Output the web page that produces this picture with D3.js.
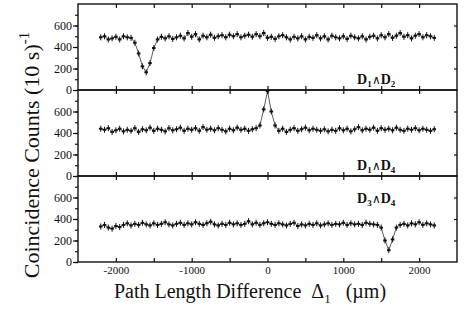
<!DOCTYPE html>
<meta charset="utf-8">
<script src="https://d3js.org/d3.v7.min.js"></script>
<style>
  body { margin: 0; background: #fff; }
  text { font-family: "Liberation Serif", "Times New Roman", serif; fill: #111; }
</style>
<div id="chart"></div>
<script>

// path length difference (µm), shared by all three panels
var pathDiff = [-2200,-2150,-2100,-2050,-2000,-1950,-1900,-1850,-1800,-1750,-1700,-1650,-1600,-1550,-1500,-1450,-1400,-1350,-1300,-1250,
  -1200,-1150,-1100,-1050,-1000,-950,-900,-850,-800,-750,-700,-650,-600,-550,-500,-450,-400,-350,-300,-250,
  -200,-150,-100,-50,0,50,100,150,200,250,300,350,400,450,500,550,600,650,700,750,
  800,850,900,950,1000,1050,1100,1150,1200,1250,1300,1350,1400,1450,1500,1550,1600,1650,1700,1750,
  1800,1850,1900,1950,2000,2050,2100,2150,2200];

// coincidence counts per 10 s
var countsD1D2 = [490,500,470,480,495,470,500,490,485,440,340,220,165,250,390,470,495,480,500,475,
  490,505,480,530,495,520,470,505,490,515,485,500,510,490,515,500,520,490,505,515,
  495,520,500,530,485,495,475,500,510,490,470,495,480,500,470,495,485,510,480,500,
  470,505,490,480,500,475,505,490,480,500,470,495,505,480,510,490,520,485,505,530,
  495,510,480,505,520,490,510,500,485];

var countsD1D4 = [440,430,445,410,425,440,415,430,420,445,410,435,425,450,420,440,430,415,445,425,
  435,450,420,440,430,445,420,455,430,440,425,445,430,415,440,425,450,430,440,420,
  435,445,470,620,790,600,470,420,440,410,430,445,420,435,450,425,440,430,420,435,
  415,430,420,445,425,440,415,435,455,425,440,430,450,420,445,430,440,425,450,430,
  420,440,430,445,425,440,430,420,435];

var countsD3D4 = [330,345,320,310,335,325,345,360,340,355,345,365,350,340,360,345,355,370,350,340,
  355,365,345,360,350,370,355,345,360,375,350,340,355,345,365,350,360,345,355,380,
  350,365,345,360,370,355,345,360,350,340,355,365,335,350,340,355,345,360,340,350,
  360,345,355,350,365,345,360,350,355,345,365,355,350,345,320,200,110,210,320,345,
  355,340,360,350,370,345,360,350,340];

var panelLabels = [["D", "1", "D", "2"], ["D", "1", "D", "4"], ["D", "3", "D", "4"]];
var labelBelow = [true, true, false]; // label below (true) or above the trace
var yTicks = [0, 200, 400, 600];
var xTicks = [-2000, -1000, 0, 1000, 2000];

var W = 474, H = 323;
var left = 78, right = 457, top0 = 4, panelH = 86;

var svg = d3.select("#chart").append("svg")
    .attr("width", W).attr("height", H);

var x = d3.scaleLinear().domain([-2500, 2500]).range([left, right]);

var series = [countsD1D2, countsD1D4, countsD3D4];

series.forEach(function(counts, i) {
  var top = top0 + i * panelH;
  var y = d3.scaleLinear().domain([0, 800]).range([top + panelH, top]);
  var g = svg.append("g");
  var data = pathDiff.map(function(d, k) { return [d, counts[k]]; });

  // frame
  g.append("rect")
      .attr("x", left).attr("y", top)
      .attr("width", right - left).attr("height", panelH)
      .attr("fill", "none").attr("stroke", "#111").attr("stroke-width", 1.4);

  // left axis, ticks outward
  g.append("g")
      .attr("transform", "translate(" + left + ",0)")
      .call(d3.axisLeft(y).tickValues(d3.range(0, 800, 100)).tickSize(3).tickFormat(""))
      .call(function(a) { a.select(".domain").remove(); });
  var ay = g.append("g")
      .attr("transform", "translate(" + left + ",0)")
      .call(d3.axisLeft(y).tickValues(yTicks).tickSize(5).tickPadding(1).tickFormat(d3.format("d")));
  ay.select(".domain").remove();
  ay.selectAll("text").style("font-size", "12px").style("font-family", "Liberation Serif");

  // right side ticks, inward
  g.append("g")
      .attr("transform", "translate(" + right + ",0)")
      .call(d3.axisLeft(y).tickValues(yTicks.slice(1)).tickSize(3).tickFormat(""))
      .call(function(a) { a.select(".domain").remove(); });

  // top & bottom ticks, inward
  g.append("g")
      .attr("transform", "translate(0," + top + ")")
      .call(d3.axisBottom(x).tickValues(d3.range(-2000, 2001, 500)).tickSize(4).tickFormat(""))
      .call(function(a) { a.select(".domain").remove(); });
  g.append("g")
      .attr("transform", "translate(0," + (top + panelH) + ")")
      .call(d3.axisTop(x).tickValues(d3.range(-2000, 2001, 500)).tickSize(4).tickFormat(""))
      .call(function(a) { a.select(".domain").remove(); });

  g.selectAll(".tick line").attr("stroke", "#111").attr("stroke-width", 1.2);

  // fit line
  g.append("path")
      .datum(data)
      .attr("fill", "none").attr("stroke", "#333").attr("stroke-width", 0.8)
      .attr("d", d3.line().x(function(d) { return x(d[0]); }).y(function(d) { return y(Math.min(d[1], 800)); }));

  // data points with error bars
  var pts = g.selectAll(".pt").data(data).enter().append("g");
  pts.append("line")
      .attr("x1", function(d) { return x(d[0]); }).attr("x2", function(d) { return x(d[0]); })
      .attr("y1", function(d) { return y(Math.min(d[1] + 28, 800)); })
      .attr("y2", function(d) { return y(d[1] - 28); })
      .attr("stroke", "#111").attr("stroke-width", 1);
  pts.append("line")
      .attr("x1", function(d) { return x(d[0]) - 1.8; }).attr("x2", function(d) { return x(d[0]) + 1.8; })
      .attr("y1", function(d) { return y(Math.min(d[1], 800)); })
      .attr("y2", function(d) { return y(Math.min(d[1], 800)); })
      .attr("stroke", "#111").attr("stroke-width", 2);

  // panel label
  var lb = panelLabels[i];
  var ly = labelBelow[i] ? top + 80 : top + 27;
  var t = g.append("text")
      .attr("x", 357).attr("y", ly)
      .style("font-size", "14px").style("font-weight", "bold");
  t.append("tspan").text(lb[0]);
  t.append("tspan").attr("dy", 3).style("font-size", "9px").text(lb[1]);
  t.append("tspan").attr("dy", -3).style("font-weight", "normal").style("font-size", "12px").text("\u2227");
  t.append("tspan").text(lb[2]);
  t.append("tspan").attr("dy", 3).style("font-size", "9px").text(lb[3]);
});

// bottom tick labels (plain hyphen minus, as in the original)
var axB = svg.append("g")
    .attr("transform", "translate(0," + (top0 + 3 * panelH) + ")")
    .call(d3.axisBottom(x).tickValues(xTicks).tickSize(0).tickPadding(4).tickFormat(function(d) { return String(d); }));
axB.select(".domain").remove();
axB.selectAll("text").style("font-size", "11px").style("font-family", "Liberation Serif");

// axis titles
var yl = svg.append("text")
    .attr("transform", "translate(39," + 155 + ") rotate(-90)")
    .attr("text-anchor", "middle")
    .style("font-size", "22px");
yl.append("tspan").text("Coincidence Counts  (10 s)");
yl.append("tspan").attr("dy", -10).style("font-size", "15px").text("-1");

var xl = svg.append("text")
    .attr("x", 250).attr("y", 298)
    .attr("text-anchor", "middle")
    .style("font-size", "20px")
    .style("white-space", "pre");
xl.append("tspan").text("Path Length Difference  \u0394");
xl.append("tspan").attr("dy", 5).style("font-size", "13px").text("1");
xl.append("tspan").attr("dy", -5).text("   (\u00b5m)");

</script>
